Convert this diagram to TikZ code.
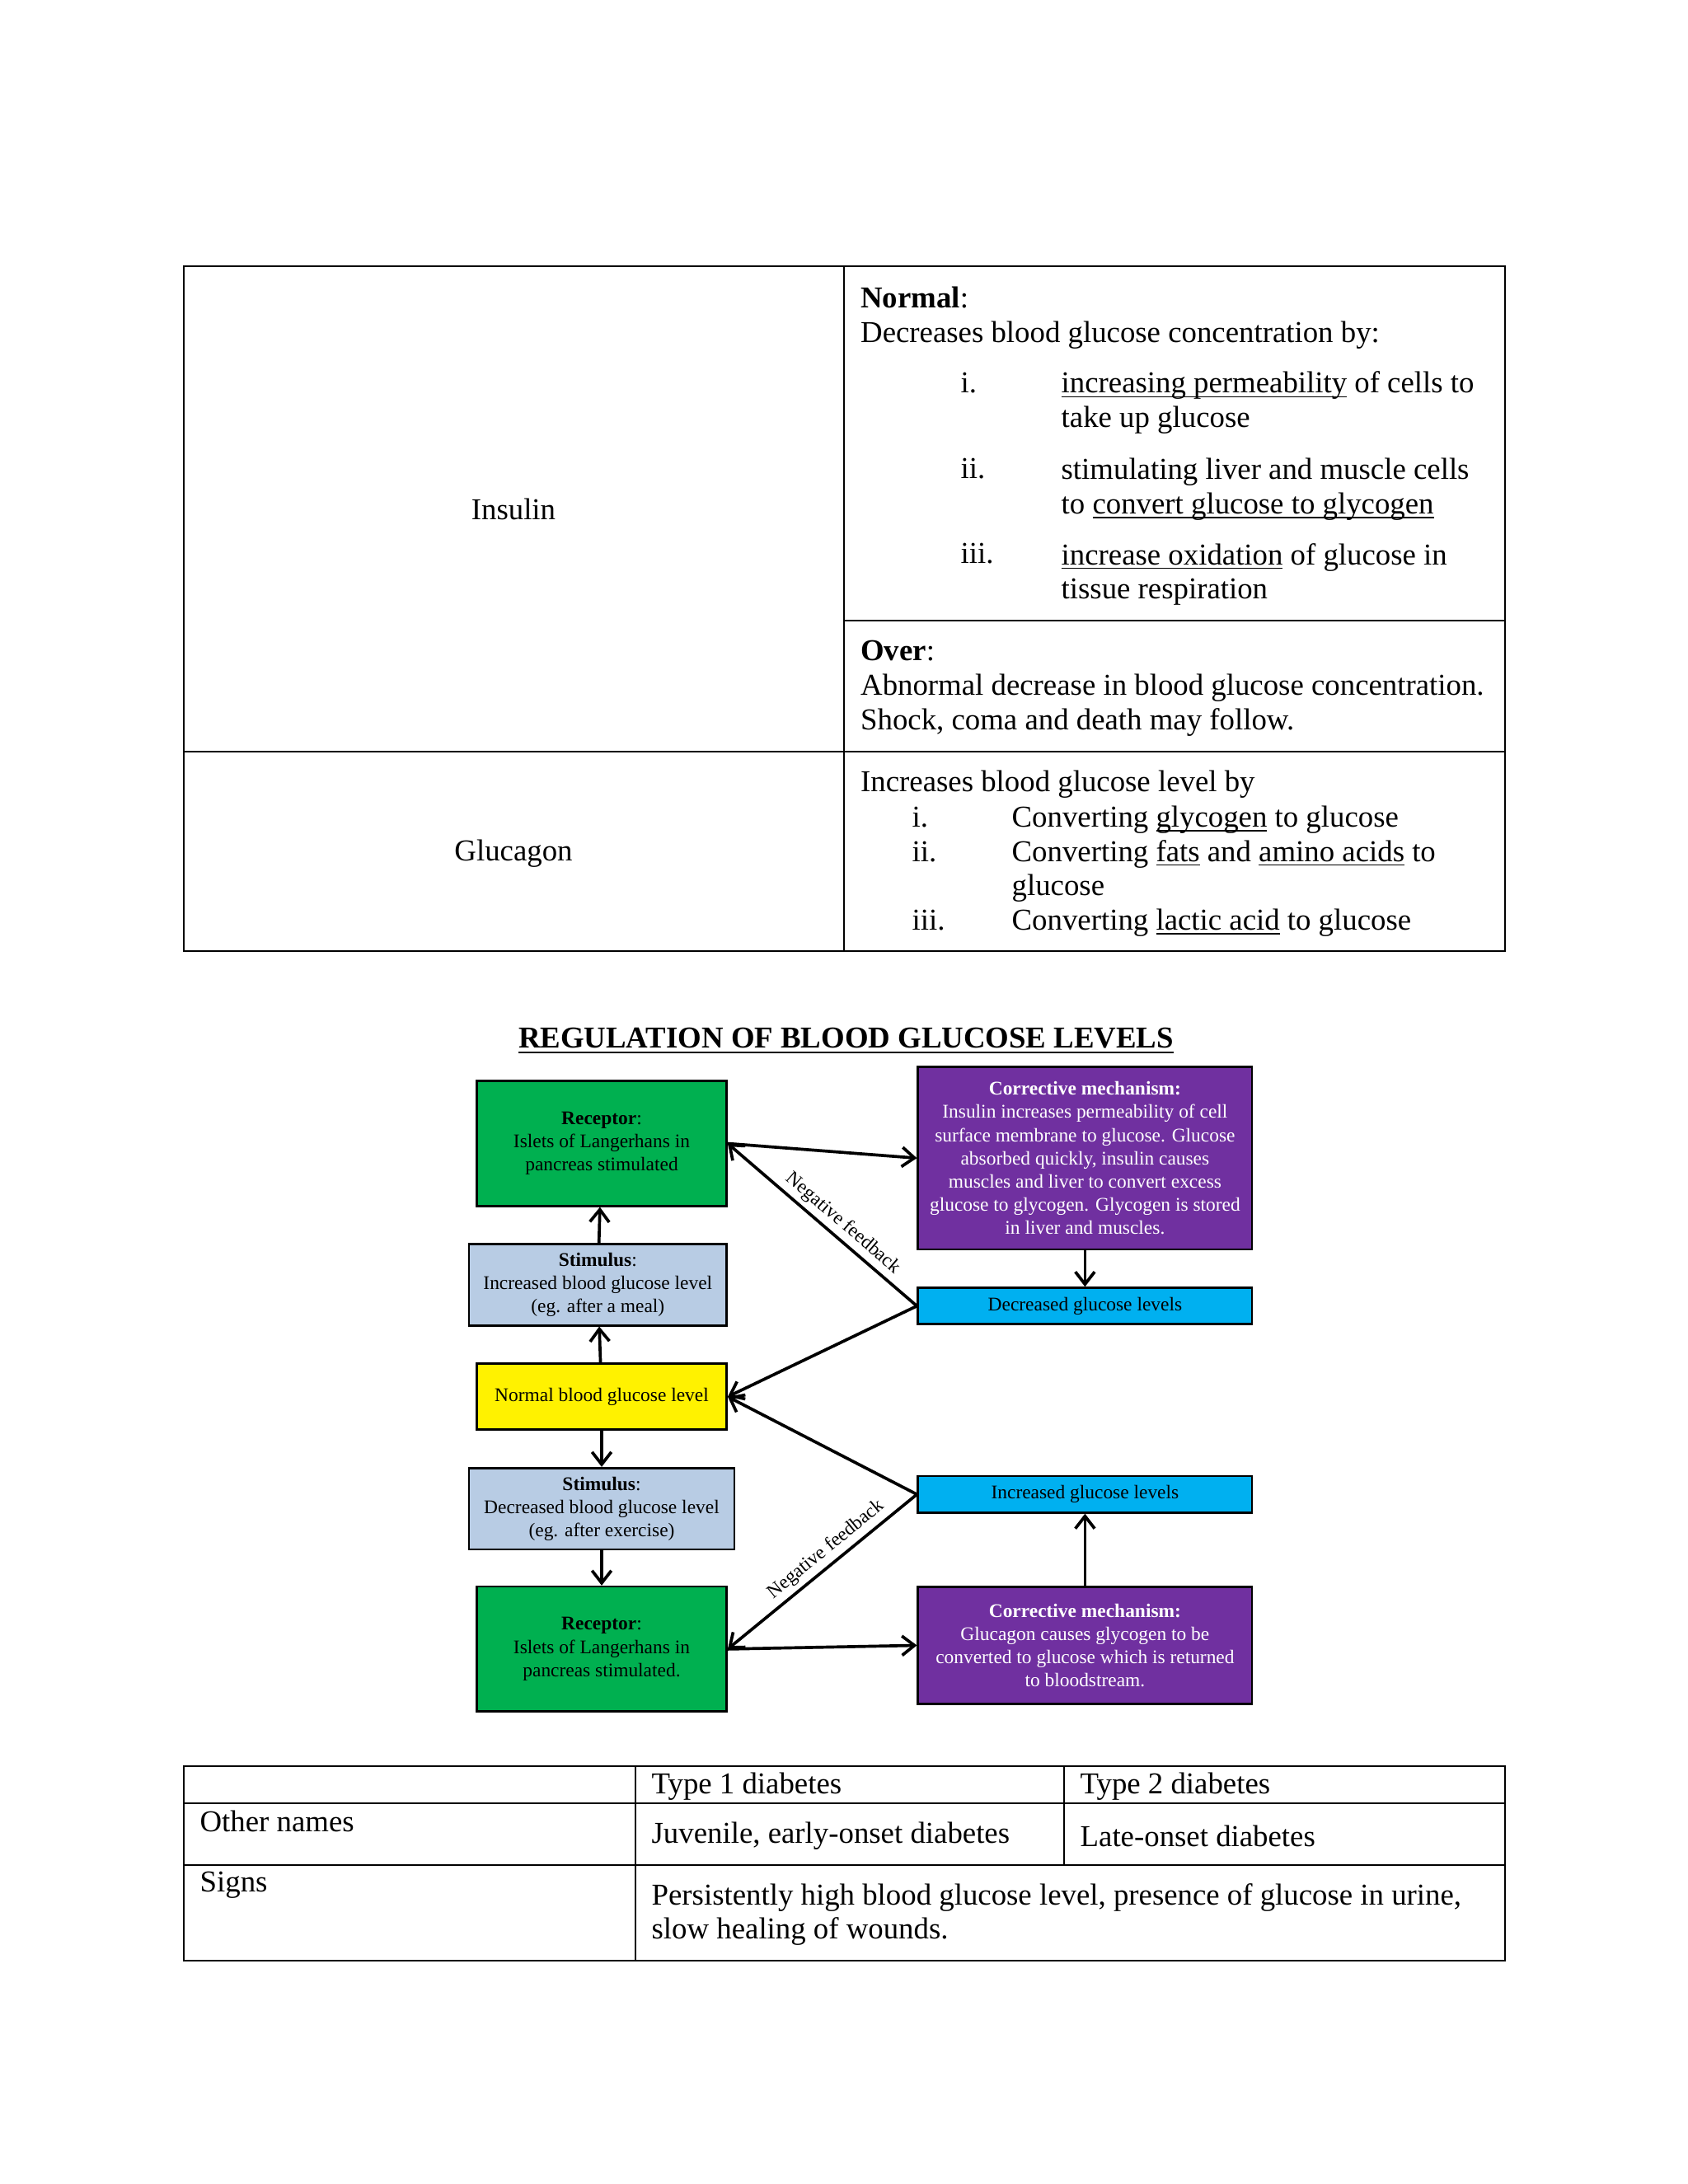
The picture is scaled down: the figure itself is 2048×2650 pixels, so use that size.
\documentclass[tikz,border=0pt]{standalone}
\usepackage{fontspec}
\setmainfont{Liberation Serif}
\usepackage{tikz}
\usetikzlibrary{arrows.meta,positioning}
\definecolor{recgreen}{HTML}{00B050}
\definecolor{stimblue}{HTML}{B8CCE4}
\definecolor{corpurple}{HTML}{7030A0}
\definecolor{levcyan}{HTML}{00B0F0}
\newcommand{\uln}[1]{\underline{\smash{#1}}}
\tikzset{
	cell/.style={anchor=base west,inner sep=0pt,align=left,font=\fontsize{11}{12.46}\selectfont},
	rule/.style={line width=.6pt},
	box/.style={draw,line width=.8pt,inner sep=2pt,align=center,font=\fontsize{7}{8.4}\selectfont},
	recbox/.style={box,fill=recgreen,minimum width=90.6pt,minimum height=45.3pt},
	stimbox/.style={box,fill=stimblue,minimum height=29.5pt},
	corbox/.style={box,fill=corpurple,text=white,minimum width=121.1pt},
	levbox/.style={box,fill=levcyan,minimum width=121.1pt,minimum height=13.2pt},
	arr/.style={-{Straight Barb[length=4.5pt,width=7pt]},line width=1.1pt},
	fb/.style={font=\fontsize{7}{8.4}\selectfont,sloped,above,inner sep=1.5pt}
}

\begin{document}
\begin{tikzpicture}[x=0.298828pt,y=-0.298828pt]
  \useasboundingbox (0,0) rectangle (2048,2650);
  % hormone table
  \draw[rule] (223,323) rectangle (1825.5,1154);
  \draw[rule] (1024,323) -- (1024,1154);
  \draw[rule] (223,912) -- (1825.5,912);
  \draw[rule] (1024,752.7) -- (1825.5,752.7);
  \node[cell,anchor=base] (Ins) at (623,630) {Insulin};
  \node[cell,anchor=base] (Glu) at (623,1044) {Glucagon};
  % multi-line cells sit on their last baseline
  \node[cell] (NormHd) at (1043.5,415) {\textbf{Normal}:\\Decreases blood glucose concentration by:};
  \node[cell] (NumA1) at (1165,476.7) {i.};
  \node[cell] (TxtA1) at (1287,518.3) {\uln{increasing permeability} of cells to\\take up glucose};
  \node[cell] (NumA2) at (1165,580.7) {ii.};
  \node[cell] (TxtA2) at (1287,623.3) {stimulating liver and muscle cells\\to \uln{convert glucose to glycogen}};
  \node[cell] (NumA3) at (1165,683.3) {iii.};
  \node[cell] (TxtA3) at (1287,726.7) {\uln{increase oxidation} of glucose in\\tissue respiration};
  \node[cell] (OverHd) at (1043.5,885) {\textbf{Over}:\\Abnormal decrease in blood glucose concentration.\\Shock, coma and death may follow.};
  \node[cell] (GluHd) at (1043.5,960) {Increases blood glucose level by};
  \node[cell] (NumB1) at (1106,1003.3) {i.};
  \node[cell] (TxtB1) at (1227,1003.3) {Converting \uln{glycogen} to glucose};
  \node[cell] (NumB2) at (1106,1045) {ii.};
  \node[cell] (TxtB2) at (1227,1086.7) {Converting \uln{fats} and \uln{amino acids} to\\glucose};
  \node[cell] (NumB3) at (1106,1128.3) {iii.};
  \node[cell] (TxtB3) at (1227,1128.3) {Converting \uln{lactic acid} to glucose};

  % regulation diagram
  \node[cell,anchor=base] (Title) at (1026.5,1271.7) {\textbf{\underline{REGULATION OF BLOOD GLUCOSE LEVELS}}};
  \node[recbox] (RecA) at (730,1387.5) {\textbf{Receptor}:\\Islets of Langerhans in\\pancreas stimulated};
  \node[stimbox,minimum width=93.5pt,below=13pt of RecA,xshift=-1.4pt] (StimA) {\textbf{Stimulus}:\\Increased blood glucose level\\(eg. after a meal)};
  \node[box,fill=yellow,minimum width=90.6pt,minimum height=23.9pt,below=13.1pt of StimA,xshift=1.4pt] (Norm) {Normal blood glucose level};
  \node[stimbox,minimum width=96.2pt,below=13.1pt of Norm] (StimB) {\textbf{Stimulus}:\\Decreased blood glucose level\\(eg. after exercise)};
  \node[recbox,below=12.7pt of StimB] (RecB) {\textbf{Receptor}:\\Islets of Langerhans in\\pancreas stimulated.};
  \node[corbox,minimum height=66.25pt] (CorA) at (1316.4,1405.2) {\textbf{Corrective mechanism:}\\Insulin increases permeability of cell\\surface membrane to glucose. Glucose\\absorbed quickly, insulin causes\\muscles and liver to convert excess\\glucose to glycogen. Glycogen is stored\\in liver and muscles.};
  \node[levbox,below=13.1pt of CorA] (Dec) {Decreased glucose levels};
  \node[levbox] (Inc) at (1316.4,1813.2) {Increased glucose levels};
  \node[corbox,minimum height=42.3pt,below=26.2pt of Inc] (CorB) {\textbf{Corrective mechanism:}\\Glucagon causes glycogen to be\\converted to glucose which is returned\\to bloodstream.};
  \draw[arr] (RecA.east) -- (CorA.west);
  \draw[arr] (CorA) -- (Dec);
  \draw[arr] (Dec.west) -- node[fb,pos=.44] (FbA) {Negative feedback} (RecA.east);
  \draw[arr] (Dec.west) -- (Norm.east);
  \draw[arr] (Norm) -- (StimA);
  \draw[arr] (StimA) -- (RecA);
  \draw[arr] (Inc.west) -- (Norm.east);
  \draw[arr] (Norm) -- (StimB);
  \draw[arr] (StimB) -- (RecB);
  \draw[arr] (Inc.west) -- node[fb,pos=.43] (FbB) {Negative feedback} (RecB.east);
  \draw[arr] (RecB.east) -- (CorB.west);
  \draw[arr] (CorB) -- (Inc);

  % diabetes table
  \draw[rule] (223,2143) rectangle (1825.5,2379);
  \draw[rule] (223,2188) -- (1825.5,2188);
  \draw[rule] (223,2262.5) -- (1825.5,2262.5);
  \draw[rule] (771,2143) -- (771,2379);
  \draw[rule] (1291,2143) -- (1291,2262.5);
  \node[cell] (TypeA) at (790,2176.7) {Type 1 diabetes};
  \node[cell] (TypeB) at (1310,2176.7) {Type 2 diabetes};
  \node[cell] (Names) at (242,2222) {Other names};
  \node[cell] (NamesA) at (790,2236.7) {Juvenile, early-onset diabetes};
  \node[cell] (NamesB) at (1310,2240) {Late-onset diabetes};
  \node[cell] (Signs) at (242,2295.5) {Signs};
  \node[cell] (SignsTxt) at (790,2352.7) {Persistently high blood glucose level, presence of glucose in urine,\\slow healing of wounds.};
\end{tikzpicture}
\end{document}
